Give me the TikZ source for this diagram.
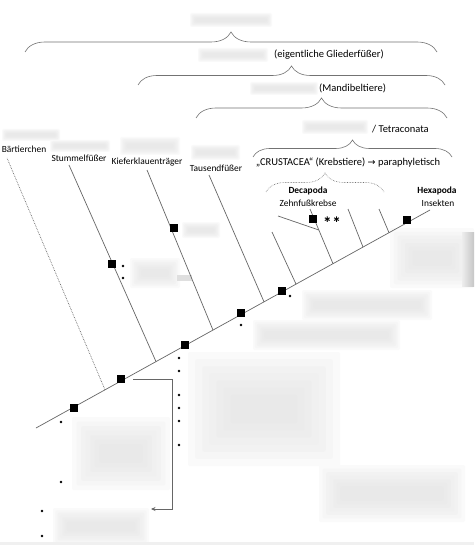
\documentclass[tikz,border=0pt]{standalone}
\usepackage{fontspec}
\setmainfont{Carlito}
\newfontfamily\pfeilfont{DejaVu Sans}
\usetikzlibrary{decorations.pathreplacing,arrows.meta}

\tikzset{
  stem/.style={black!60,line width=0.7pt},
  klammer/.style={black!55,line width=0.6pt,decorate,decoration={brace,amplitude=#1}},
  marker/.style={fill=black,inner sep=0pt,minimum size=8.5pt},
  punkt/.style={fill=black,circle,inner sep=0pt,minimum size=2.9pt},
  taxon/.style={font=\fontsize{9.4}{10.5}\selectfont,inner sep=1pt},
  gruppe/.style={font=\fontsize{10.5}{12}\selectfont,inner sep=1pt,anchor=west},
}
% verdeckter (unscharfer) Kasten
\newcommand{\verdeckt}[4]{%
  \pgfmathsetmacro\rand{min(#3-#1,#4-#2)/16}%
  \foreach \k/\g in {0/4,1/7,2/10,3/12,4/14,5/16,6/17}{
    \fill[gray!\g,rounded corners=2pt] (#1+\k*\rand,#2+\k*\rand) rectangle (#3-\k*\rand,#4-\k*\rand);
  }}

\begin{document}
\begin{tikzpicture}[x=1pt,y=-1pt]
  \fill[white] (0,0) rectangle (474,545);
  \useasboundingbox (0,0) rectangle (474,545);

  % verdeckte Kaesten
  \verdeckt{190}{13}{272}{27}
  \verdeckt{198}{48}{268}{62}
  \verdeckt{250}{82}{318}{95}
  \verdeckt{302}{120}{368}{134}
  \verdeckt{2}{129}{60}{141}
  \verdeckt{50}{140}{110}{152}
  \verdeckt{120}{137}{180}{155}
  \verdeckt{191}{145}{240}{160}
  \verdeckt{182}{222}{220}{238}
  \verdeckt{130}{258}{180}{288}
  \fill[gray!25] (177,275) rectangle (192,281);
  \verdeckt{390}{228}{474}{288}
  \shade[left color=gray!14,right color=gray!45] (462,232) rectangle (474,286);
  \verdeckt{302}{290}{432}{320}
  \verdeckt{253}{320}{400}{350}
  \verdeckt{188}{352}{340}{466}
  \verdeckt{72}{417}{170}{490}
  \verdeckt{53}{508}{149}{545}
  \verdeckt{319}{465}{465}{522}
  \fill[gray!12] (0,542) rectangle (474,545);

  % Klammern
  \draw[klammer=20pt] (25,52) -- (437,52);
  \draw[klammer=19pt] (138,85) -- (445,85);
  \draw[klammer=20pt] (196,118) -- (447,118);
  \draw[klammer=17pt] (253,157) -- (452,157);
  \draw[klammer=19pt,densely dotted] (266,192) -- (384,192);
  \node[gruppe] (euarth) at (273,55) {(eigentliche Gliederfüßer)};
  \node[gruppe] (mandib) at (318,88) {(Mandibeltiere)};
  \node[gruppe] (tetra) at (371,129) {/ Tetraconata};
  \node[gruppe,anchor=center] (crust) at (348,163) {„CRUSTACEA“ (Krebstiere) {\pfeilfont\fontsize{9.5}{12}\selectfont →} paraphyletisch};

  % Stamm
  \coordinate (wurzel) at (36,428);
  \coordinate (spitze) at (430,210);
  \draw[stem] (wurzel) -- (spitze);

  % Aeste
  \coordinate (f1) at (105,389.8); \coordinate (e1) at (7,158);
  \coordinate (f2) at (156,361.6); \coordinate (e2) at (69,165);
  \coordinate (f3) at (213,330.1); \coordinate (e3) at (147,170);
  \coordinate (f4) at (264,301.8); \coordinate (e4) at (209,175);
  \coordinate (f5) at (296,284.1); \coordinate (e5) at (272,232);
  \coordinate (f6) at (333,263.7); \coordinate (e6) at (310,209);
  \coordinate (g6) at (318.8,230); \coordinate (h6) at (278,216);
  \coordinate (f7) at (363,247.1); \coordinate (e7) at (348,209);
  \coordinate (f8) at (389,232.7); \coordinate (e8) at (379,209);
  \draw[stem,densely dotted] (f1) -- (e1);
  \draw[stem] (f2) -- (e2);
  \draw[stem] (f3) -- (e3);
  \draw[stem] (f4) -- (e4);
  \draw[stem] (f5) -- (e5);
  \draw[stem] (f6) -- (e6);
  \draw[stem] (g6) -- (h6);
  \draw[stem] (f7) -- (e7);
  \draw[stem] (f8) -- (e8);

  % Taxa
  \node[taxon] (baer) at (24,149) {Bärtierchen};
  \node[taxon] (stumm) at (79,158) {Stummelfüßer};
  \node[taxon] (kiefer) at (147,162) {Kieferklauenträger};
  \node[taxon] (tausend) at (216,168) {Tausendfüßer};
  \node[taxon] (deca) at (308,191) {\textbf{Decapoda}};
  \node[taxon] (zehn) at (308,203) {Zehnfußkrebse};
  \node[taxon] (hexa) at (437,191) {\textbf{Hexapoda}};
  \node[taxon] (insekt) at (438,203) {Insekten};

  % Merkmale
  \node[marker] (m1) at (74,408) {};
  \node[marker] (m2) at (121,379) {};
  \node[marker] (m3) at (185,345) {};
  \node[marker] (m4) at (241,313) {};
  \node[marker] (m5) at (282,291) {};
  \node[marker] (m6) at (407,220) {};
  \node[marker] (m7) at (112,264) {};
  \node[marker] (m8) at (174,228) {};
  \node[marker] (m9) at (313,219) {};
  \node[inner sep=0pt,font=\pfeilfont\bfseries\fontsize{9}{10}\selectfont] (stern) at (332,220) {∗\,∗};

  % Punkte
  \node[punkt] at (61,422) {};
  \node[punkt] at (61,482) {};
  \node[punkt] at (42,511) {};
  \node[punkt] at (42,536) {};
  \node[punkt] at (123,266) {};
  \node[punkt] at (123,278) {};
  \node[punkt] at (179,358) {};
  \node[punkt] at (179,371) {};
  \node[punkt] at (179,395) {};
  \node[punkt] at (179,408) {};
  \node[punkt] at (179,421) {};
  \node[punkt] at (179,445) {};
  \node[punkt] at (241,325) {};
  \node[punkt] at (290,296) {};

  % Pfeil
  \coordinate (ziel) at (151,509);
  \draw[stem,-{Stealth[length=4.5pt,width=4pt]}] ([xshift=8pt]m2.east) -- (172,379) |- (ziel);
\end{tikzpicture}
\end{document}
